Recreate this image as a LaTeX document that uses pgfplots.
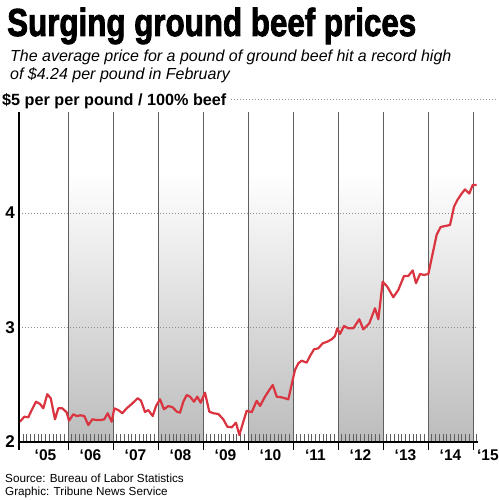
\documentclass[border=0pt]{standalone}
\usepackage{pgfplots}
\pgfplotsset{compat=1.18}
\usepackage{fontspec}
\setmainfont{Liberation Sans}
\newfontfamily\titlefont[FakeBold=2.5]{Liberation Sans}
\definecolor{beefred}{RGB}{218,52,64}
\definecolor{bandgray}{RGB}{188,188,188}
\definecolor{vline}{RGB}{95,95,95}
\definecolor{gridc}{RGB}{140,140,140}
\begin{document}
\begin{tikzpicture}
\useasboundingbox (0bp,0bp) rectangle (499bp,500bp);
\fill[white] (0bp,0bp) rectangle (499bp,500bp);
\node[anchor=base west, inner sep=0] at (7bp,464bp) {\resizebox{409bp}{\height}{\titlefont\fontsize{39bp}{40bp}\selectfont\bfseries Surging ground beef prices}};
\node[anchor=base west, inner sep=0] at (10bp,438bp) {\fontsize{16bp}{18bp}\selectfont\itshape The average price for a pound of ground beef hit a record high};
\node[anchor=base west, inner sep=0] at (10bp,420bp) {\fontsize{16bp}{18bp}\selectfont\itshape of \$4.24 per pound in February};
\node[anchor=base west, inner sep=0] at (2bp,394bp) {\fontsize{16.2bp}{18bp}\selectfont\bfseries \$5 per per pound / 100\% beef};
\draw[gridc, dash pattern=on 1.2bp off 1.8bp, line width=0.6bp] (231bp,401bp) -- (497bp,401bp);
\node[anchor=base west, inner sep=0] at (5bp,18bp) {\fontsize{11.7bp}{13bp}\selectfont Source: Bureau of Labor Statistics};
\node[anchor=base west, inner sep=0] at (5bp,5bp) {\fontsize{11.7bp}{13bp}\selectfont Graphic: Tribune News Service};
\begin{axis}[
  at={(19bp,58bp)}, anchor=south west,
  scale only axis, width=459bp, height=330bp,
  xmin=2004.911, xmax=2015.111, ymin=2, ymax=4.882,
  axis line style={draw=none}, clip=false,
  major tick length=0pt,
  /pgf/number format/assume math mode=true,
  ytick={2,3,4}, yticklabels={2,3,4},
  yticklabel style={font=\bfseries\fontsize{17bp}{17bp}\selectfont, anchor=east, inner sep=0pt, xshift=-4bp},
  xtick={2005.5,2006.5,2007.5,2008.5,2009.5,2010.5,2011.5,2012.5,2013.5,2014.5},
  xticklabels={‘05,‘06,‘07,‘08,‘09,‘10,‘11,‘12,‘13,‘14},
  xticklabel style={font=\bfseries\fontsize{15.5bp}{16bp}\selectfont, anchor=base, inner sep=0pt, yshift=-19bp},
]
\fill[top color=white, bottom color=bandgray] (axis cs:2006,2) rectangle (axis cs:2007,4.35);
\fill[top color=white, bottom color=bandgray] (axis cs:2008,2) rectangle (axis cs:2009,4.35);
\fill[top color=white, bottom color=bandgray] (axis cs:2010,2) rectangle (axis cs:2011,4.35);
\fill[top color=white, bottom color=bandgray] (axis cs:2012,2) rectangle (axis cs:2013,4.35);
\fill[top color=white, bottom color=bandgray] (axis cs:2014,2) rectangle (axis cs:2015,4.35);
\draw[gridc, dash pattern=on 1.2bp off 1.8bp, line width=0.6bp] (axis cs:2004.911,3) -- (axis cs:2015.111,3);
\draw[gridc, dash pattern=on 1.2bp off 1.8bp, line width=0.6bp] (axis cs:2004.911,4) -- (axis cs:2015.111,4);
\draw[vline, line width=1bp] (axis cs:2006,2) -- (axis cs:2006,4.882);
\draw[vline, line width=1bp] (axis cs:2007,2) -- (axis cs:2007,4.882);
\draw[vline, line width=1bp] (axis cs:2008,2) -- (axis cs:2008,4.882);
\draw[vline, line width=1bp] (axis cs:2009,2) -- (axis cs:2009,4.882);
\draw[vline, line width=1bp] (axis cs:2010,2) -- (axis cs:2010,4.882);
\draw[vline, line width=1bp] (axis cs:2011,2) -- (axis cs:2011,4.882);
\draw[vline, line width=1bp] (axis cs:2012,2) -- (axis cs:2012,4.882);
\draw[vline, line width=1bp] (axis cs:2013,2) -- (axis cs:2013,4.882);
\draw[vline, line width=1bp] (axis cs:2014,2) -- (axis cs:2014,4.882);
\draw[vline, line width=1bp] (axis cs:2015,2) -- (axis cs:2015,4.882);
\draw[vline, line width=0.6bp] (axis cs:2004.9167,2) foreach \i in {1,...,123} { -- ++(0bp,8bp) ++(3.75bp,-8bp) };
\addplot[beefred, line width=2.2bp, line join=round] coordinates {
(2004.933,2.177) (2005.029,2.221) (2005.118,2.216) (2005.193,2.279) (2005.289,2.352)
(2005.378,2.332) (2005.451,2.294) (2005.540,2.417) (2005.616,2.382) (2005.711,2.198)
(2005.784,2.294) (2005.873,2.294) (2005.971,2.259) (2006.022,2.186) (2006.118,2.242)
(2006.193,2.227) (2006.282,2.233) (2006.362,2.227) (2006.451,2.148) (2006.540,2.198)
(2006.638,2.192) (2006.727,2.192) (2006.807,2.198) (2006.882,2.251) (2006.971,2.177)
(2007.029,2.294) (2007.118,2.279) (2007.207,2.251) (2007.304,2.294) (2007.416,2.332)
(2007.549,2.382) (2007.622,2.361) (2007.711,2.262) (2007.784,2.279) (2007.882,2.227)
(2007.956,2.314) (2008.044,2.373) (2008.133,2.286) (2008.229,2.314) (2008.327,2.303)
(2008.416,2.265) (2008.489,2.256) (2008.562,2.352) (2008.638,2.410) (2008.711,2.396)
(2008.800,2.352) (2008.873,2.396) (2008.949,2.343) (2009.044,2.431) (2009.140,2.265)
(2009.229,2.251) (2009.340,2.245) (2009.451,2.198) (2009.540,2.134) (2009.638,2.128)
(2009.733,2.169) (2009.807,2.061) (2009.896,2.177) (2009.971,2.273) (2010.082,2.260)
(2010.193,2.360) (2010.267,2.315) (2010.378,2.396) (2010.473,2.454) (2010.549,2.498)
(2010.638,2.396) (2010.749,2.390) (2010.896,2.373) (2010.993,2.541) (2011.044,2.629)
(2011.118,2.687) (2011.193,2.710) (2011.304,2.693) (2011.378,2.751) (2011.467,2.810)
(2011.562,2.818) (2011.660,2.862) (2011.762,2.876) (2011.860,2.897) (2011.933,2.926)
(2011.984,2.993) (2012.044,2.943) (2012.133,3.013) (2012.229,2.993) (2012.340,2.993)
(2012.473,3.072) (2012.562,2.984) (2012.696,3.037) (2012.822,3.168) (2012.896,3.072)
(2012.993,3.400) (2013.096,3.356) (2013.229,3.264) (2013.340,3.328) (2013.467,3.450)
(2013.562,3.450) (2013.660,3.498) (2013.733,3.387) (2013.822,3.467) (2013.911,3.459)
(2014.007,3.467) (2014.104,3.647) (2014.193,3.811) (2014.282,3.878) (2014.378,3.886)
(2014.489,3.895) (2014.578,4.055) (2014.651,4.112) (2014.749,4.170) (2014.822,4.206)
(2014.918,4.170) (2014.993,4.245) (2015.082,4.245)
};
\draw[black, line width=1bp] (axis cs:2006,2) -- ++(0bp,-8bp);
\draw[black, line width=1bp] (axis cs:2007,2) -- ++(0bp,-8bp);
\draw[black, line width=1bp] (axis cs:2008,2) -- ++(0bp,-8bp);
\draw[black, line width=1bp] (axis cs:2009,2) -- ++(0bp,-8bp);
\draw[black, line width=1bp] (axis cs:2010,2) -- ++(0bp,-8bp);
\draw[black, line width=1bp] (axis cs:2011,2) -- ++(0bp,-8bp);
\draw[black, line width=1bp] (axis cs:2012,2) -- ++(0bp,-8bp);
\draw[black, line width=1bp] (axis cs:2013,2) -- ++(0bp,-8bp);
\draw[black, line width=1bp] (axis cs:2014,2) -- ++(0bp,-8bp);
\draw[black, line width=1bp] (axis cs:2015,2) -- ++(0bp,-8bp);
\draw[black, line width=2bp] (axis cs:2004.911,2) -- (axis cs:2015.111,2);
\draw[black, line width=2bp] (axis cs:2004.911,4.882) -- (axis cs:2004.911,2) -- ++(0bp,-8bp);
\node[font=\bfseries\fontsize{15.5bp}{16bp}\selectfont, anchor=base, inner sep=0pt, yshift=-19bp] at (axis cs:2015.33,2) {‘15};
\end{axis}
\end{tikzpicture}
\end{document}
